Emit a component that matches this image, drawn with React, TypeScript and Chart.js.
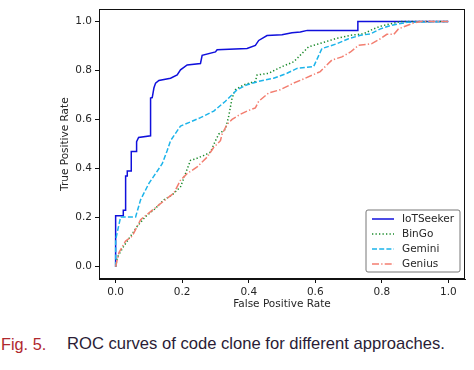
import React, { useEffect, useRef } from "react";
import { Chart, registerables } from "chart.js";

Chart.register(...registerables);

const xTicks = [0, 0.2, 0.4, 0.6, 0.8, 1.0];
const yTicks = [0, 0.2, 0.4, 0.6, 0.8, 1.0];

const seriesNames = ["IoTSeeker", "BinGo", "Gemini", "Genius"];

const iotX = [0, 0, 0.023, 0.023, 0.03, 0.03, 0.035, 0.035, 0.047, 0.047, 0.063, 0.063, 0.069, 0.105, 0.105, 0.11, 0.115, 0.12, 0.13, 0.165, 0.185, 0.195, 0.215, 0.255, 0.26, 0.3, 0.305, 0.395, 0.42, 0.43, 0.455, 0.5, 0.53, 0.555, 0.576, 0.728, 0.728, 1.0];
const iotY = [0, 0.208, 0.208, 0.23, 0.23, 0.37, 0.37, 0.39, 0.39, 0.47, 0.47, 0.51, 0.527, 0.534, 0.688, 0.69, 0.729, 0.749, 0.76, 0.769, 0.782, 0.803, 0.823, 0.829, 0.862, 0.876, 0.885, 0.89, 0.903, 0.923, 0.943, 0.946, 0.954, 0.957, 0.964, 0.964, 1.0, 1.0];

const bingoX = [0, 0.005, 0.025, 0.045, 0.065, 0.09, 0.115, 0.145, 0.17, 0.195, 0.21, 0.225, 0.24, 0.265, 0.285, 0.3, 0.31, 0.33, 0.34, 0.35, 0.36, 0.385, 0.42, 0.425, 0.46, 0.48, 0.5, 0.535, 0.555, 0.58, 0.63, 0.66, 0.706, 0.745, 0.775, 0.796, 0.836, 0.856, 1.0];
const bingoY = [0, 0.038, 0.085, 0.125, 0.165, 0.205, 0.232, 0.273, 0.293, 0.326, 0.38, 0.434, 0.44, 0.454, 0.467, 0.514, 0.541, 0.561, 0.615, 0.688, 0.722, 0.742, 0.756, 0.782, 0.789, 0.803, 0.816, 0.836, 0.863, 0.897, 0.917, 0.93, 0.944, 0.95, 0.97, 0.981, 0.994, 1.0, 1.0];

const geminiX = [0, 0, 0.015, 0.06, 0.075, 0.1, 0.12, 0.14, 0.155, 0.165, 0.195, 0.22, 0.255, 0.295, 0.33, 0.365, 0.395, 0.43, 0.475, 0.515, 0.545, 0.595, 0.62, 0.666, 0.7, 0.736, 0.766, 0.796, 0.826, 0.876, 1.0];
const geminiY = [0, 0.11, 0.203, 0.203, 0.273, 0.34, 0.38, 0.42, 0.474, 0.514, 0.574, 0.588, 0.608, 0.635, 0.675, 0.722, 0.742, 0.756, 0.769, 0.789, 0.809, 0.816, 0.89, 0.91, 0.93, 0.944, 0.95, 0.97, 0.984, 0.997, 1.0];

const geniusX = [0, 0.01, 0.03, 0.05, 0.075, 0.105, 0.13, 0.155, 0.175, 0.195, 0.215, 0.245, 0.275, 0.295, 0.315, 0.32, 0.335, 0.35, 0.375, 0.395, 0.42, 0.43, 0.46, 0.495, 0.535, 0.57, 0.615, 0.65, 0.68, 0.706, 0.73, 0.77, 0.796, 0.815, 0.836, 0.85, 0.876, 0.896, 0.916, 1.0];
const geniusY = [0, 0.058, 0.105, 0.125, 0.192, 0.225, 0.252, 0.279, 0.3, 0.353, 0.38, 0.407, 0.447, 0.487, 0.514, 0.541, 0.581, 0.601, 0.622, 0.635, 0.648, 0.675, 0.709, 0.722, 0.749, 0.769, 0.796, 0.843, 0.856, 0.876, 0.903, 0.91, 0.93, 0.948, 0.948, 0.97, 0.984, 0.994, 1.0, 1.0];

const colors = ["#1010dc", "#1a8a2a", "#1db4ea", "#f37e70"];
const dashes: number[][] = [[], [1.3, 2.2], [5, 2.2], [7, 2.2, 1.3, 2.2]];

const FONT = "'DejaVu Sans', sans-serif";
const TEXT = "#262626";
const FS = 10.5;

const zip = (xs: number[], ys: number[]) => xs.map((x, i) => ({ x, y: ys[i] }));

const framePlugin = {
  id: "frame",
  afterDatasetsDraw(chart: any) {
    const { ctx, chartArea: a } = chart;
    ctx.save();
    ctx.strokeStyle = "#111";
    ctx.lineWidth = 1;
    ctx.strokeRect(Math.round(a.left) + 0.5, Math.round(a.top) + 0.5, Math.round(a.right - a.left) - 1, Math.round(a.bottom - a.top) - 1);
    ctx.restore();
  },
};

const legendPlugin = {
  id: "mplLegend",
  afterDraw(chart: any) {
    const { ctx, chartArea: a } = chart;
    const ds = chart.data.datasets;
    const w = 94;
    const rowH = 15;
    const h = rowH * ds.length + 2;
    const x0 = a.right - 5 - w;
    const y0 = a.bottom - 7 - h;
    ctx.save();
    ctx.beginPath();
    const r = 2;
    ctx.moveTo(x0 + r, y0);
    ctx.arcTo(x0 + w, y0, x0 + w, y0 + h, r);
    ctx.arcTo(x0 + w, y0 + h, x0, y0 + h, r);
    ctx.arcTo(x0, y0 + h, x0, y0, r);
    ctx.arcTo(x0, y0, x0 + w, y0, r);
    ctx.closePath();
    ctx.fillStyle = "rgba(255,255,255,0.9)";
    ctx.fill();
    ctx.strokeStyle = "#777";
    ctx.lineWidth = 1;
    ctx.stroke();
    ctx.font = FS + "px " + FONT;
    ctx.textBaseline = "middle";
    ctx.textAlign = "left";
    ds.forEach((d: any, i: number) => {
      const cy = y0 + 9 + i * rowH;
      ctx.beginPath();
      ctx.setLineDash(d.borderDash || []);
      ctx.lineCap = "butt";
      ctx.strokeStyle = d.borderColor;
      ctx.lineWidth = d.borderWidth;
      ctx.moveTo(x0 + 6, cy);
      ctx.lineTo(x0 + 28, cy);
      ctx.stroke();
      ctx.setLineDash([]);
      ctx.fillStyle = TEXT;
      ctx.fillText(d.label, x0 + 36, cy);
    });
    ctx.restore();
  },
};

export default function App() {
  const ref = useRef<HTMLCanvasElement | null>(null);
  useEffect(() => {
    if (!ref.current) return;
    const xsAll = [iotX, bingoX, geminiX, geniusX];
    const ysAll = [iotY, bingoY, geminiY, geniusY];
    const chart = new Chart(ref.current, {
      type: "scatter",
      data: {
        datasets: seriesNames.map((name, i) => ({
          label: name,
          data: zip(xsAll[i], ysAll[i]),
          showLine: true,
          borderColor: colors[i],
          backgroundColor: colors[i],
          borderWidth: 1.5,
          borderDash: dashes[i],
          borderCapStyle: "butt",
          pointRadius: 0,
          tension: 0,
          order: 4 - i,
        })),
      },
      options: {
        animation: false,
        responsive: false,
        maintainAspectRatio: false,
        layout: { padding: { top: 7, right: 9, left: 0, bottom: 0 } },
        plugins: { legend: { display: false }, tooltip: { enabled: false } },
        scales: {
          x: {
            type: "linear",
            min: -0.05,
            max: 1.05,
            afterBuildTicks: (s: any) => { s.ticks = xTicks.map((v) => ({ value: v })); },
            afterFit: (s: any) => { s.height = 41; },
            ticks: { callback: (v: any) => Number(v).toFixed(1), color: TEXT, font: { family: FONT, size: FS }, padding: 3, maxRotation: 0 },
            grid: { drawOnChartArea: false, drawTicks: true, tickLength: 4, color: "#111" },
            border: { display: true, color: "#111" },
            title: { display: true, text: "False Positive Rate", color: TEXT, font: { family: FONT, size: FS }, padding: { top: 0, bottom: 9 } },
          },
          y: {
            type: "linear",
            min: -0.05,
            max: 1.05,
            afterBuildTicks: (s: any) => { s.ticks = yTicks.map((v) => ({ value: v })); },
            afterFit: (s: any) => { s.width = 99; },
            ticks: { callback: (v: any) => Number(v).toFixed(1), color: TEXT, font: { family: FONT, size: FS }, padding: 3 },
            grid: { drawOnChartArea: false, drawTicks: true, tickLength: 4, color: "#111" },
            border: { display: true, color: "#111" },
            title: { display: true, text: "True Positive Rate", color: TEXT, font: { family: FONT, size: FS }, padding: { top: 59, bottom: 0 } },
          },
        },
      },
      plugins: [framePlugin, legendPlugin],
    } as any);
    return () => chart.destroy();
  }, []);

  return (
    <div style={{ position: "absolute", left: 0, top: 0, width: 474, height: 370, background: "#fff", overflow: "hidden" }}>
      <canvas ref={ref} width={474} height={320} style={{ position: "absolute", left: 0, top: 0, width: 474, height: 320 }} />
      <div style={{ position: "absolute", left: 1, top: 336, fontFamily: "'Liberation Sans', Arial, sans-serif", fontSize: 16.3, lineHeight: "16px", whiteSpace: "nowrap", color: "#b0282e" }}>
        Fig. 5.
      </div>
      <div style={{ position: "absolute", left: 67, top: 336, fontFamily: "'Liberation Sans', Arial, sans-serif", fontSize: 16.6, lineHeight: "16px", whiteSpace: "nowrap", color: "#2a1c36" }}>
        ROC curves of code clone for different approaches.
      </div>
    </div>
  );
}
